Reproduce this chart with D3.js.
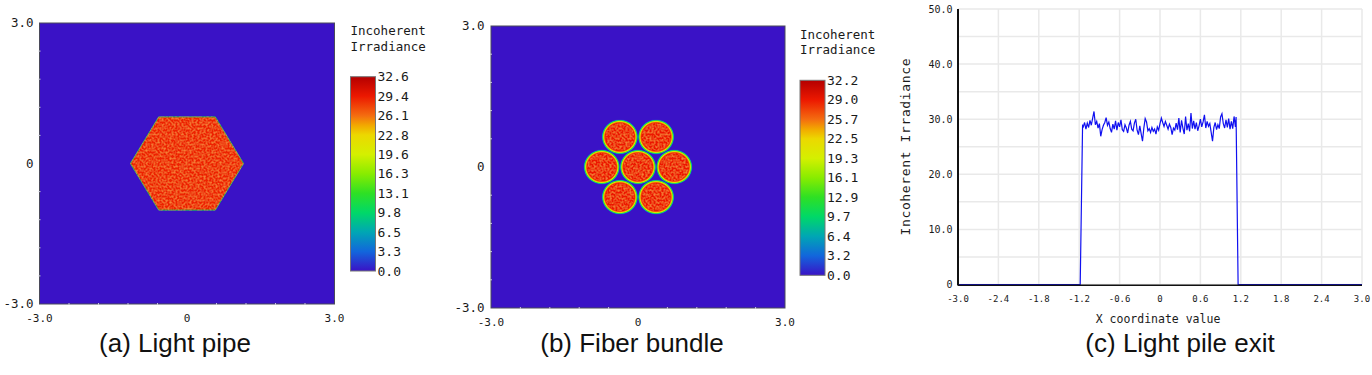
<!DOCTYPE html>
<html>
<head>
<meta charset="utf-8">
<script src="https://cdn.jsdelivr.net/npm/d3@7"></script>
<style>
  html, body { margin: 0; padding: 0; background: #fff; }
  svg { display: block; }
  .mono { font-family: "DejaVu Sans Mono", "Liberation Mono", monospace; fill: #1a1a1a; }
  .cap { font-family: "Liberation Sans", Arial, sans-serif; fill: #111; }
</style>
</head>
<body>
<svg id="chart" width="1372" height="375"></svg>
<script>
// ---------------- DATA ----------------
// colour map (value fraction of max -> colour)
const cmapFractions = [0, 0.1, 0.2, 0.3, 0.4, 0.5, 0.6, 0.7, 0.75, 0.8, 0.9, 1.0];
const cmapColors = ["#3a12c6", "#1266dc", "#00a6b4", "#00d868", "#2ee024", "#88ec00", "#d4f000", "#ecd800", "#f2a800", "#f46c10", "#ec1800", "#b40000"];

// panel (a) light pipe
const pipeMax = 32.6;
const pipeLevel = 29.0;
const pipeTicks = ["32.6", "29.4", "26.1", "22.8", "19.6", "16.3", "13.1", "9.8", "6.5", "3.3", "0.0"];
const hexX = [-1.15, -0.575, 0.575, 1.15, 0.575, -0.575];
const hexY = [0, 0.995, 0.995, 0, -0.995, -0.995];

// panel (b) fiber bundle
const bundleMax = 32.2;
const bundleLevel = 29.0;
const bundleTicks = ["32.2", "29.0", "25.7", "22.5", "19.3", "16.1", "12.9", "9.7", "6.4", "3.2", "0.0"];
const fiberX = [-0.37, 0.37, -0.74, 0, 0.74, -0.37, 0.37];
const fiberY = [0.64, 0.64, 0, 0, 0, -0.64, -0.64];
const fiberR = 0.37;

// heat-map axis ticks
const mapTickLabels = [-3, 0, 3];
const mapMinorTicks = [-2.4, -1.8, -1.2, -0.6, 0.6, 1.2, 1.8, 2.4];

// panel (c) light pipe exit profile
const profX = [-3.0, -1.185,
  -1.15, -1.14, -1.12, -1.10, -1.08, -1.06, -1.04, -1.02, -1.00, -0.98, -0.96, -0.94, -0.92, -0.90, -0.88, -0.86, -0.84, -0.82, -0.80,
  -0.78, -0.76, -0.74, -0.72, -0.70, -0.68, -0.66, -0.64, -0.62, -0.60, -0.58, -0.56, -0.54, -0.52, -0.50, -0.48, -0.46, -0.44, -0.42,
  -0.40, -0.38, -0.36, -0.34, -0.32, -0.30, -0.28, -0.26, -0.24, -0.22, -0.20, -0.18, -0.16, -0.14, -0.12, -0.10, -0.08, -0.06, -0.04,
  -0.02, 0.00, 0.02, 0.04, 0.06, 0.08, 0.10, 0.12, 0.14, 0.16, 0.18, 0.20, 0.22, 0.24, 0.26, 0.28, 0.30, 0.32, 0.34, 0.36, 0.38,
  0.40, 0.42, 0.44, 0.46, 0.48, 0.50, 0.52, 0.54, 0.56, 0.58, 0.60, 0.62, 0.64, 0.66, 0.68, 0.70, 0.72, 0.74, 0.76, 0.78, 0.80,
  0.82, 0.84, 0.86, 0.88, 0.90, 0.92, 0.94, 0.96, 0.98, 1.00, 1.02, 1.04, 1.06, 1.08, 1.10, 1.12, 1.13,
  1.16, 3.0];
const profY = [0, 0,
  28.8, 28.6, 29.4, 28.2, 29.3, 28.5, 29.8, 28.9, 30.2, 31.4, 29.0, 29.6, 28.4, 29.2, 26.9, 28.1, 28.9, 29.4, 30.3,
  28.9, 29.5, 28.3, 27.6, 29.1, 28.2, 29.7, 28.0, 29.4, 28.6, 29.9, 28.1, 27.8, 29.0, 28.4, 27.5, 28.9, 29.6, 28.2,
  27.9, 29.3, 30.0, 28.0, 27.2, 28.8, 27.4, 26.0, 28.4, 30.1, 29.5, 27.9, 28.3, 27.6, 28.5, 27.8, 28.2, 27.3, 28.6,
  28.0, 29.2, 30.2, 29.4, 28.7, 29.6, 28.9, 28.2, 29.1, 28.5, 27.2, 28.4, 28.0, 29.3, 28.1, 30.2, 27.6, 29.8, 28.4, 27.3, 30.5,
  28.0, 29.2, 27.8, 31.1, 28.3, 29.7, 28.2, 29.4, 27.9, 28.8, 30.0, 28.6, 29.5, 30.8, 28.4, 29.6, 28.7, 29.2, 27.6, 26.0, 28.5,
  29.4, 28.1, 29.0, 28.3, 30.4, 31.0, 29.2, 28.4, 29.9, 28.5, 30.1, 28.2, 29.6, 28.3, 30.5, 28.6, 30.4,
  0, 0];
const profXTicks = [-3.0, -2.4, -1.8, -1.2, -0.6, 0, 0.6, 1.2, 1.8, 2.4, 3.0];
const profYTicks = [0, 10, 20, 30, 40, 50];
const profYGrid = [0, 5, 10, 15, 20, 25, 30, 35, 40, 45, 50];

const captions = ["(a) Light pipe", "(b) Fiber bundle", "(c) Light pile exit"];
const legendTitle = ["Incoherent", "Irradiance"];

// ---------------- DRAW ----------------
const svg = d3.select("#chart");
const defs = svg.append("defs");
const fmt = d => d === 0 ? "0" : d.toFixed(1);

function colorScale(maxV) {
  return d3.scaleLinear()
    .domain(cmapFractions.map(f => f * maxV))
    .range(cmapColors)
    .interpolate(d3.interpolateRgb)
    .clamp(true);
}

// subtle grain texture of the detector image
const flt = defs.append("filter").attr("id", "speckle")
  .attr("x", 0).attr("y", 0).attr("width", 1).attr("height", 1);
flt.append("feTurbulence").attr("type", "fractalNoise").attr("baseFrequency", 0.5)
  .attr("numOctaves", 1).attr("seed", 7).attr("result", "n");
flt.append("feColorMatrix").attr("in", "n").attr("type", "matrix")
  .attr("values", "0 0 0 0 0.96  0 0 0 0 0.36  0 0 0 0 0.06  1.5 0 0 0 -0.62")
  .attr("result", "spk");
flt.append("feComposite").attr("in", "spk").attr("in2", "SourceGraphic").attr("operator", "atop");

function heatFrame(x, y) {
  const g = svg.append("g");
  const [x0, x1] = x.range();
  const [y0, y1] = y.range();
  g.append("rect").attr("x", x0).attr("y", y1).attr("width", x1 - x0).attr("height", y0 - y1)
    .attr("fill", colorScale(1)(0));
  return g;
}

function heatAxes(g, x, y, capX, capText, leftLabelRight, bottomLabelY) {
  const [x0, x1] = x.range();
  const [y0, y1] = y.range();
  g.append("rect").attr("x", x0).attr("y", y1).attr("width", x1 - x0).attr("height", y0 - y1)
    .attr("fill", "none").attr("stroke", "#4a4a5a").attr("stroke-width", 1);
  g.selectAll(".mtl").data(mapMinorTicks).enter().append("line")
    .attr("x1", x0 - 1).attr("x2", x0 + 1).attr("y1", d => y(d)).attr("y2", d => y(d))
    .attr("stroke", "#c8c8d8").attr("stroke-width", 1);
  g.selectAll(".mtb").data(mapMinorTicks).enter().append("line")
    .attr("y1", y0 - 1).attr("y2", y0 + 1).attr("x1", d => x(d)).attr("x2", d => x(d))
    .attr("stroke", "#c8c8d8").attr("stroke-width", 1);
  g.selectAll(".yl").data(mapTickLabels).enter().append("text")
    .attr("class", "mono").attr("x", leftLabelRight).attr("y", d => y(d))
    .attr("dy", "0.35em").attr("text-anchor", "end").attr("font-size", 12.5)
    .text(fmt);
  g.selectAll(".xl").data(mapTickLabels).enter().append("text")
    .attr("class", "mono").attr("x", d => x(d)).attr("y", bottomLabelY)
    .attr("dy", "0.35em").attr("text-anchor", "middle").attr("font-size", 11)
    .text(fmt);
  svg.append("text").attr("class", "cap").attr("x", capX).attr("y", 352)
    .attr("text-anchor", "middle").attr("font-size", 26).text(capText);
}

function legend(id, maxV, ticks, lx, ly0, ly1, titleY) {
  const cs = colorScale(maxV);
  const grad = defs.append("linearGradient").attr("id", id)
    .attr("x1", 0).attr("y1", 1).attr("x2", 0).attr("y2", 0);
  d3.range(0, 1.0001, 0.05).forEach(f => {
    grad.append("stop").attr("offset", f).attr("stop-color", cs(f * maxV));
  });
  svg.append("rect").attr("x", lx).attr("y", ly0).attr("width", 25).attr("height", ly1 - ly0)
    .attr("fill", `url(#${id})`).attr("stroke", "#777").attr("stroke-width", 1);
  const ls = d3.scaleLinear().domain([0, ticks.length - 1]).range([ly0, ly1]);
  svg.selectAll(null).data(ticks).enter().append("text")
    .attr("class", "mono").attr("x", lx + 27).attr("y", (d, i) => ls(i))
    .attr("dy", "0.35em").attr("font-size", 13).text(d => d);
  legendTitle.forEach((t, i) => {
    svg.append("text").attr("class", "mono").attr("x", lx).attr("y", titleY + i * 15.5)
      .attr("dy", "0.35em").attr("font-size", 12.5).text(t);
  });
}

// ---- panel (a)
const xA = d3.scaleLinear().domain([-3, 3]).range([39.5, 334.5]);
const yA = d3.scaleLinear().domain([-3, 3]).range([304, 23]);
const csA = colorScale(pipeMax);
const gA = heatFrame(xA, yA);
gA.append("path")
  .attr("d", d3.line()(hexX.map((v, i) => [xA(v), yA(hexY[i])])) + "Z")
  .attr("fill", csA(pipeLevel))
  .attr("stroke", csA(12)).attr("stroke-width", 0.9)
  .attr("filter", "url(#speckle)");
heatAxes(gA, xA, yA, 175, captions[0], 33.5, 318.5);
legend("gradA", pipeMax, pipeTicks, 350.5, 76.7, 271, 30.7);

// ---- panel (b)
const xB = d3.scaleLinear().domain([-3, 3]).range([491, 785]);
const yB = d3.scaleLinear().domain([-3, 3]).range([308, 26]);
const csB = colorScale(bundleMax);
const gB = heatFrame(xB, yB);
const rg = defs.append("radialGradient").attr("id", "fiberGrad");
[[0, bundleLevel], [0.8, bundleLevel], [0.85, 25.5], [0.89, 20.5], [0.93, 14], [0.965, 7], [1.0, 1]]
  .forEach(([o, v]) => rg.append("stop").attr("offset", o).attr("stop-color", csB(v)));
gB.selectAll(".fib").data(fiberX).enter().append("ellipse")
  .attr("cx", d => xB(d)).attr("cy", (d, i) => yB(fiberY[i]))
  .attr("rx", xB(fiberR) - xB(0)).attr("ry", yB(0) - yB(fiberR))
  .attr("fill", "url(#fiberGrad)");
gB.append("g").attr("filter", "url(#speckle)")
  .selectAll(".fibin").data(fiberX).enter().append("ellipse")
  .attr("cx", d => xB(d)).attr("cy", (d, i) => yB(fiberY[i]))
  .attr("rx", (xB(fiberR) - xB(0)) * 0.8).attr("ry", (yB(0) - yB(fiberR)) * 0.8)
  .attr("fill", csB(bundleLevel));
heatAxes(gB, xB, yB, 632, captions[1], 484.5, 322.5);
legend("gradB", bundleMax, bundleTicks, 800, 80.3, 275.3, 34.3);

// ---- panel (c)
const xC = d3.scaleLinear().domain([-3, 3]).range([958, 1362]);
const yC = d3.scaleLinear().domain([0, 50]).range([284.5, 9]);
const gC = svg.append("g");
gC.selectAll(".vg").data(profXTicks).enter().append("line")
  .attr("x1", d => xC(d)).attr("x2", d => xC(d)).attr("y1", yC(0)).attr("y2", yC(50))
  .attr("stroke", "#e9e9e9").attr("stroke-width", 1.5);
gC.selectAll(".hg").data(profYGrid).enter().append("line")
  .attr("y1", d => yC(d)).attr("y2", d => yC(d)).attr("x1", xC(-3)).attr("x2", xC(3))
  .attr("stroke", "#e9e9e9").attr("stroke-width", 1.5);
gC.append("path")
  .datum(profX.map((v, i) => [v, profY[i]]))
  .attr("d", d3.line().x(d => xC(d[0])).y(d => yC(d[1])))
  .attr("fill", "none").attr("stroke", "#1010f0").attr("stroke-width", 1.2);
gC.append("line").attr("x1", xC(-3)).attr("x2", xC(-3)).attr("y1", yC(50)).attr("y2", yC(0) + 1)
  .attr("stroke", "#111").attr("stroke-width", 2);
gC.append("line").attr("x1", xC(-3)).attr("x2", xC(3)).attr("y1", yC(0) + 0.8).attr("y2", yC(0) + 0.8)
  .attr("stroke", "#111").attr("stroke-width", 1.6);
gC.selectAll(".yt").data(profYTicks).enter().append("text")
  .attr("class", "mono").attr("x", 952.5).attr("y", d => yC(d)).attr("dy", "0.35em")
  .attr("text-anchor", "end").attr("font-size", 10).text(fmt);
gC.selectAll(".xt").data(profXTicks).enter().append("text")
  .attr("class", "mono").attr("x", d => xC(d)).attr("y", 299).attr("dy", "0.35em")
  .attr("text-anchor", "middle").attr("font-size", 9).text(fmt);
gC.append("text").attr("class", "mono").attr("x", 1158).attr("y", 318.5).attr("dy", "0.35em")
  .attr("text-anchor", "middle").attr("font-size", 11.5).text("X coordinate value");
gC.append("text").attr("class", "mono")
  .attr("transform", "translate(905,147) rotate(-90)").attr("dy", "0.35em")
  .attr("text-anchor", "middle").attr("font-size", 13).attr("textLength", 177)
  .text("Incoherent Irradiance");
svg.append("text").attr("class", "cap").attr("x", 1180).attr("y", 352)
  .attr("text-anchor", "middle").attr("font-size", 26).text(captions[2]);
</script>
</body>
</html>
